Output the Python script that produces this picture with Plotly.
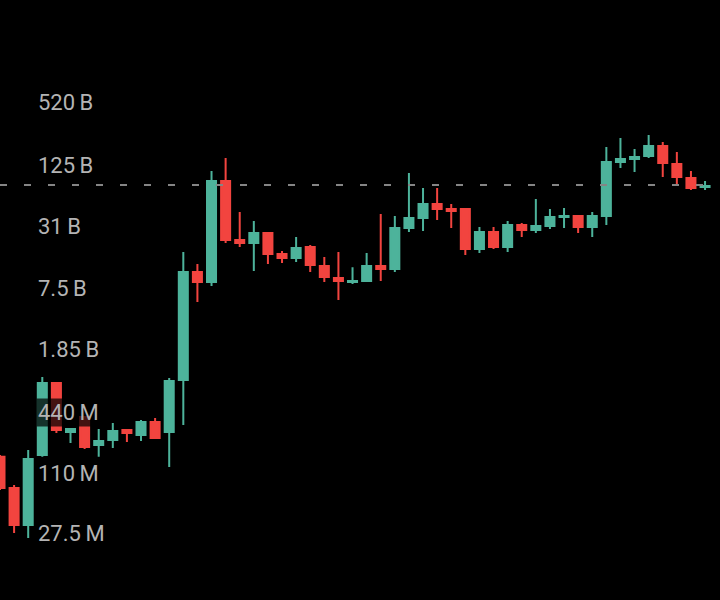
import numpy as np
import plotly.graph_objects as go

open_ = [0.160, 0.0786, 0.0338, 0.167, 0.865, 0.282, 0.398, 0.210, 0.235, 0.296,
         0.264, 0.355, 0.282, 0.927, 10.9, 8.69, 87.3, 22.7, 21.2, 26.6,
         16.5, 15.0, 19.3, 12.5, 9.52, 8.69, 8.89, 12.5, 11.7, 29.8,
         37.5, 51.6, 46.1, 46.1, 18.5, 27.2, 19.3, 32.0, 28.5, 31.2,
         38.4, 39.3, 30.5, 39.3, 134.8, 144.3, 154.6, 194.2, 128.7, 93.5,
         76.1]
high = [0.167, 0.0842, 0.187, 0.992, 0.885, 0.309, 0.407, 0.302, 0.347, 0.302,
        0.372, 0.389, 0.970, 17.2, 13.1, 109.7, 147.7, 43.0, 35.0, 27.2,
        17.6, 24.3, 20.2, 15.4, 17.2, 12.2, 16.9, 41.1, 39.3, 104.8,
        74.4, 74.4, 51.6, 47.1, 30.5, 30.5, 35.0, 33.5, 57.9, 46.1,
        47.1, 40.2, 43.0, 189.8, 233.1, 181.4, 249.7, 212.8, 169.3, 109.7,
        87.3]
low = [0.0751, 0.0281, 0.0251, 0.160, 0.276, 0.220, 0.192, 0.160, 0.196, 0.225,
       0.230, 0.241, 0.127, 0.332, 5.50, 7.93, 21.2, 19.3, 11.2, 13.1,
       13.4, 13.7, 10.9, 8.69, 5.76, 8.30, 8.69, 8.89, 10.9, 27.2,
       27.9, 35.8, 29.8, 16.1, 16.9, 18.5, 17.2, 24.3, 26.6, 29.2,
       29.8, 26.6, 24.3, 32.0, 117.5, 107.2, 147.7, 95.7, 79.7, 71.1,
       71.1]
close = [0.0786, 0.0338, 0.152, 0.865, 0.296, 0.302, 0.200, 0.230, 0.289, 0.276,
         0.355, 0.246, 0.906, 10.9, 8.69, 87.3, 22.7, 21.2, 26.6, 16.5,
         15.0, 18.9, 12.8, 9.74, 8.89, 8.89, 12.5, 11.7, 29.8, 37.5,
         51.6, 46.1, 44.0, 18.5, 27.2, 19.3, 32.0, 28.5, 31.2, 38.4,
         39.3, 30.5, 39.3, 134.8, 144.3, 151.1, 194.2, 131.7, 95.7, 74.4,
         77.9]

tick_vals = [0.0275, 0.110, 0.440, 1.85, 7.5, 31, 125, 520]
tick_text = ["27.5\u2009M", "110\u2009M", "440\u2009M", "1.85\u2009B",
             "7.5\u2009B", "31\u2009B", "125\u2009B", "520\u2009B"]
ref_level = 79.7

UP = "#4db39b"
DOWN = "#f2443f"
B = 1e9

x = list(range(len(open_)))
fig = go.Figure(go.Candlestick(
    x=x,
    open=[v * B for v in open_], high=[v * B for v in high],
    low=[v * B for v in low], close=[v * B for v in close],
    increasing=dict(line=dict(color=UP, width=2), fillcolor=UP),
    decreasing=dict(line=dict(color=DOWN, width=2), fillcolor=DOWN),
    whiskerwidth=0,
    hoverinfo="skip",
))

# linha tracejada de referência
fig.add_hline(y=ref_level * B, line=dict(color="#858585", width=2, dash="7px,17px"))

# rótulos do eixo dentro da área do gráfico
for v, t in zip(tick_vals, tick_text):
    fig.add_annotation(
        x=0.05, xref="paper", xanchor="left",
        y=np.log10(v * B), yref="y", yanchor="middle",
        text=t, showarrow=False,
        font=dict(family="Roboto", size=22, color="#b4b4b4"),
        bgcolor="rgba(0,0,0,0.72)", borderpad=1,
    )

fig.update_layout(
    width=720, height=600,
    margin=dict(l=0, r=0, t=0, b=0),
    paper_bgcolor="black", plot_bgcolor="black",
    showlegend=False,
    boxgap=0.2, boxgroupgap=0.2,
    xaxis=dict(visible=False, range=[0, 51.06], rangeslider=dict(visible=False)),
    yaxis=dict(type="log", range=[6.784, 12.737], visible=False, showgrid=False),
)

fig.write_html("out.html", config={"displayModeBar": False},
               post_script="document.body.style.margin='0';document.body.style.background='black';")
